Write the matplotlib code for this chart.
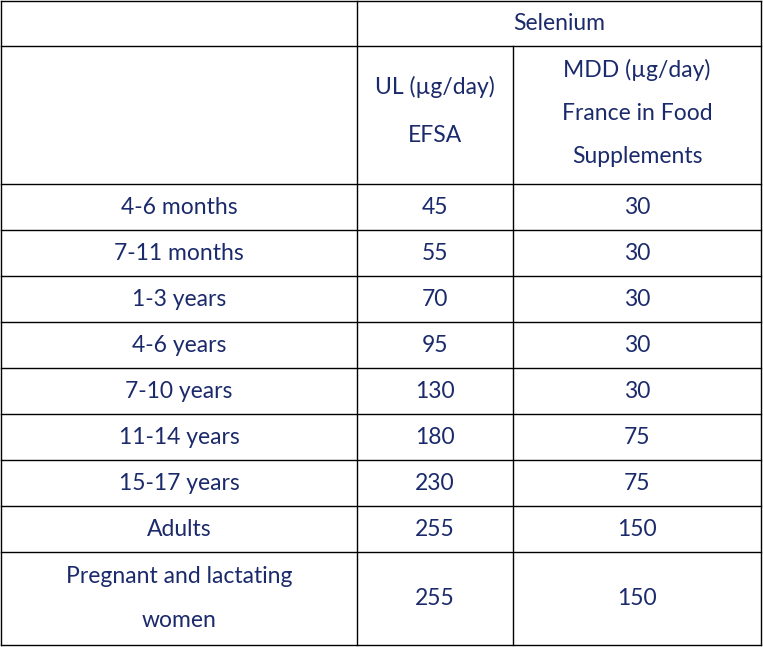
import matplotlib
matplotlib.use("Agg")
import matplotlib.pyplot as plt

header_top = "Selenium"
col_headers = ["UL (µg/day)\nEFSA", "MDD (µg/day)\nFrance in Food\nSupplements"]
groups = ["4-6 months", "7-11 months", "1-3 years", "4-6 years", "7-10 years",
          "11-14 years", "15-17 years", "Adults", "Pregnant and lactating\nwomen"]
ul = [45, 55, 70, 95, 130, 180, 230, 255, 255]
mdd = [30, 30, 30, 30, 30, 75, 75, 150, 150]

W, H = 763, 647
fig = plt.figure(figsize=(W/100, H/100), dpi=100)
ax = fig.add_axes([0, 0, 1, 1])
ax.set_xlim(0, W); ax.set_ylim(H, 0); ax.axis("off")

color = "#1b2a6b"
fs = 16.5
fam = ["Lato", "DejaVu Sans"]
xs = [1, 357, 513, 761]
ys = [1, 46, 184, 230, 276, 322, 368, 414, 460, 506, 552, 645]
lw = 1.0
for x in xs:
    y0 = 46 if x == 513 else 1
    ax.plot([x, x], [y0, 645], color="black", lw=lw)
for y in ys:
    ax.plot([1, 761], [y, y], color="black", lw=lw)

def t(x, y, s, ls=2.0):
    ax.text(x, y, s, ha="center", va="center", color=color, fontsize=fs,
            family=fam, linespacing=ls)

t((357+761)/2, 23, header_top)
t((357+513)/2, 111, col_headers[0], 2.6)
t((513+761)/2, 113, col_headers[1], 2.3)
for i, g in enumerate(groups):
    yc = (ys[i+2] + ys[i+3]) / 2
    t((1+357)/2, yc, g, 2.3)
    t((357+513)/2, yc, str(ul[i]))
    t((513+761)/2, yc, str(mdd[i]))

fig.savefig("out.png", dpi=100, facecolor="white")
